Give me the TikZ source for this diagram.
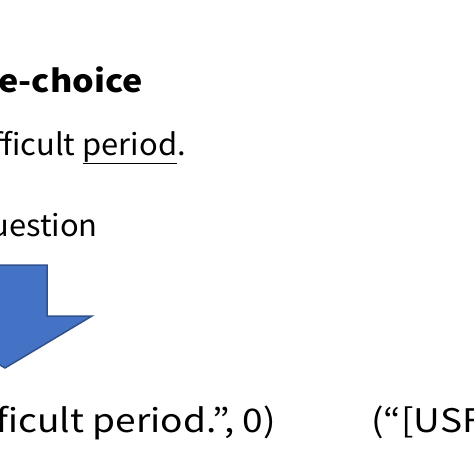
\documentclass[tikz,border=0pt]{standalone}
\usepackage{fontspec}
\setmainfont{Noto Sans CJK JP}
\newfontfamily\linefont[FakeStretch=1.03]{Noto Sans CJK JP}
\newfontfamily\outfont[FakeStretch=1.14]{Noto Sans CJK JP}
\newfontfamily\titlefont[FakeStretch=1.1]{Noto Sans CJK JP}
\definecolor{arrowfill}{HTML}{4472C4}
\definecolor{arrowline}{HTML}{2F528F}
\tikzset{
  txt/.style={inner sep=0pt, font=\linefont\fontsize{30}{36}\selectfont},
  outtxt/.style={inner sep=0pt, font=\outfont\fontsize{32.5}{38}\selectfont},
  ttl/.style={inner sep=0pt, font=\titlefont\fontsize{31}{36}\selectfont\bfseries},
  bigarrow/.style={fill=arrowfill, draw=arrowline, line width=1.5pt, line join=miter}
}
\begin{document}
\begin{tikzpicture}[x=1pt,y=-1pt]
\useasboundingbox (0,0) rectangle (474,474);
\clip (0,0) rectangle (474,474);
\node[ttl, anchor=base east] (title) at (143,92) {e-choice};
\node[txt, anchor=base east] (sent) at (186,155) {fficult \underline{period}.};
\node[txt, anchor=base east] (quest) at (98,236) {uestion};
\path[bigarrow] (-37,265) -- (47,265) -- (47,316) -- (92,316) -- (5,368) -- (-82,316) -- (-37,316) -- cycle;
\coordinate (arrowtip) at (5,368);
\node[outtxt, anchor=base east] (out1) at (276,432) {fficult period.”, 0)};
\node[outtxt, anchor=base west] (out2) at (371,432) {(“[USF};
\end{tikzpicture}
\end{document}
